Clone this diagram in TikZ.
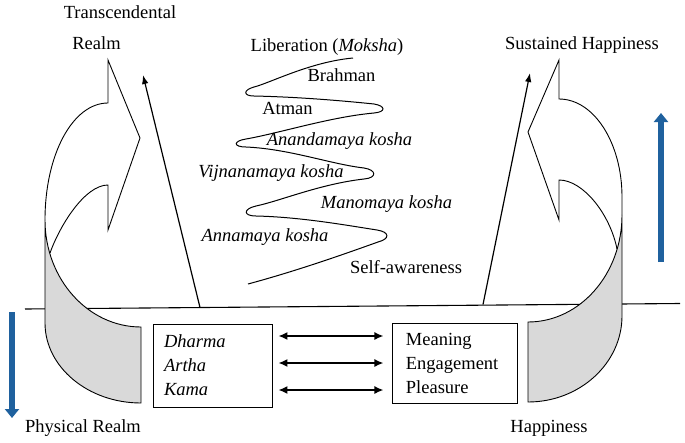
\documentclass[tikz,border=0pt]{standalone}
\usepackage{fontspec}
\setmainfont{Liberation Serif}
\newfontfamily\timesfont{Liberation Serif}
\usepackage{xcolor}
\usepackage{tikz}
\usetikzlibrary{positioning,arrows.meta,calc}
\definecolor{moveblue}{HTML}{1F619E}
\definecolor{backgray}{HTML}{D9D9D9}
\tikzset{
  lbl/.style={font=\timesfont\fontsize{18.5}{24}\selectfont, inner sep=0pt, text height=13pt, text depth=4pt},
  box/.style={draw=black, line width=0.9pt, font=\timesfont\fontsize{18.5}{24}\selectfont, align=left,
              inner ysep=0pt, minimum height=#1},
  box/.default=83pt,
  ribbon/.style={draw=black, line width=0.9pt},
  back/.style={ribbon, fill=backgray},
  flow/.style={-{Latex[length=9pt,width=6.5pt]}, line width=1.2pt},
  twoway/.style={{Latex[length=9pt,width=8pt]}-{Latex[length=9pt,width=8pt]}, line width=1.5pt},
  realmshift/.style={-{Triangle[length=9pt,width=14pt]}, line width=6.5pt, draw=moveblue},
}

\begin{document}
\begin{tikzpicture}[x=1pt, y=-1pt]
  \useasboundingbox (0,0) rectangle (685,442);

  % horizon between the two realms
  \coordinate (hl) at (25,309);
  \coordinate (hr) at (680,303.5);
  \draw[line width=1.1pt] (hl) -- (hr);

  % left ribbon, physical realm up to transcendental realm
  \draw[back] (141,327) .. controls (88,327) and (45,279) .. (45,220) -- (45,323)
    .. controls (45,367) and (88,403) .. (141,403) -- cycle;
  \draw[ribbon] (45,220) .. controls (45,154) and (73,103) .. (108,103) -- (108,60)
    -- (140,138) -- (108,230) -- (108,185) .. controls (85,185) and (60,225) .. (50,253);

  % right ribbon, happiness up to sustained happiness
  \draw[back] (528,322) .. controls (580,322) and (622,274) .. (622,215) -- (622,316)
    .. controls (622,363) and (580,402) .. (528,402) -- cycle;
  \draw[ribbon] (622,215) -- (622,197) .. controls (622,143) and (594,99) .. (559,99) -- (559,60)
    -- (528,132) -- (559,220) -- (559,180) .. controls (583,180) and (610,214) .. (617,249);

  % sheaths
  \draw[line width=1pt] (353,58) .. controls (310,62) and (270,83) .. (254,87)
    .. controls (243,90) and (243,96) .. (254,96)
    .. controls (300,97) and (345,101) .. (374,104)
    .. controls (386,106) and (386,112) .. (374,113)
    .. controls (330,117) and (280,133) .. (246,139)
    .. controls (233,141) and (233,147) .. (246,147)
    .. controls (290,149) and (330,164) .. (364,168)
    .. controls (377,170) and (377,178) .. (364,179)
    .. controls (320,184) and (280,201) .. (256,206)
    .. controls (243,209) and (243,216) .. (256,216)
    .. controls (300,217) and (345,225) .. (377,230)
    .. controls (390,232) and (390,239) .. (378,242)
    .. controls (350,252) and (300,270) .. (248,284);

  % rising arrows
  \coordinate (lfoot) at (200,307.5);
  \coordinate (lhead) at (143,75);
  \coordinate (rfoot) at (483,304.5);
  \coordinate (rhead) at (530,73);
  \draw[flow] (lfoot) -- (lhead);
  \draw[flow] (rfoot) -- (rhead);

  % blue direction arrows
  \coordinate (dtop) at (12,312);
  \coordinate (dbot) at (12,418);
  \coordinate (ubot) at (661,262);
  \coordinate (utop) at (661,113);
  \draw[realmshift] (dtop) -- (dbot);
  \draw[realmshift] (ubot) -- (utop);

  % boxes
  \node[box, text width=97pt, inner xsep=11pt] (D) at (212.5,365.5)
    {\textit{Dharma}\\\textit{Artha}\\\textit{Kama}};
  \node[box=80pt, text width=99pt, inner xsep=13pt, right=120pt of D, yshift=2.5pt] (M)
    {Meaning\\Engagement\\Pleasure};
  \draw[twoway] ($(D.east)+(6,-29.5)$) -- ($(M.west)+(-9,-27)$);
  \draw[twoway] ($(D.east)+(6,-2.5)$) -- ($(M.west)+(-9,0)$);
  \draw[twoway] ($(D.east)+(6,24.5)$) -- ($(M.west)+(-9,27)$);

  % labels
  \node[lbl] (tr) at (120,14) {Transcendental};
  \node[lbl] (rl) at (96.5,45) {Realm};
  \node[lbl] (lib) at (327,47) {Liberation (\textit{Moksha})};
  \node[lbl] (br) at (341.5,77) {Brahman};
  \node[lbl] (at) at (287.5,110) {Atman};
  \node[lbl] (an) at (339.5,141) {\textit{Anandamaya kosha}};
  \node[lbl] (vi) at (271,173) {\textit{Vijnanamaya kosha}};
  \node[lbl] (ma) at (386.5,204) {\textit{Manomaya kosha}};
  \node[lbl] (nn) at (265,237) {\textit{Annamaya kosha}};
  \node[lbl] (sa) at (406,269) {Self-awareness};
  \node[lbl] (sh) at (582,45) {Sustained Happiness};
  \node[lbl] (pr) at (83,428) {Physical Realm};
  \node[lbl] (hp) at (549,428) {Happiness};
\end{tikzpicture}
\end{document}
